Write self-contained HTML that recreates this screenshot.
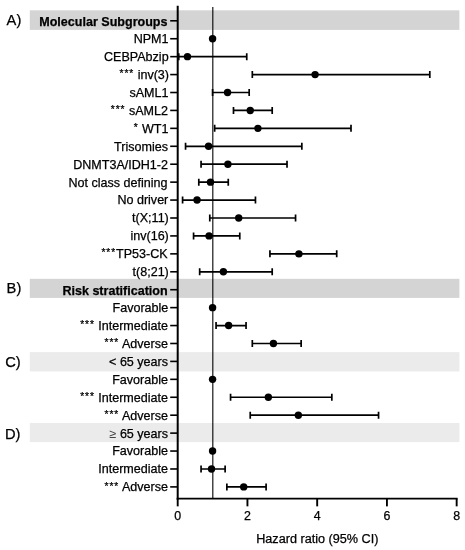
<!DOCTYPE html><html><head><meta charset="utf-8"><title>Forest plot</title><style>html,body{margin:0;padding:0;background:#fff}svg{display:block}text{font-family:"Liberation Sans",Arial,sans-serif;fill:#000;stroke:#000;stroke-width:.25px}</style></head><body>
<svg width="465" height="550" viewBox="0 0 465 550">
<rect width="465" height="550" fill="#fff"/>
<rect x="29.8" y="10.3" width="429.60" height="19.60" fill="#d4d4d4"/>
<rect x="29.8" y="278.8" width="429.60" height="19.10" fill="#d4d4d4"/>
<rect x="29.8" y="352.1" width="429.60" height="19.35" fill="#ebebeb"/>
<rect x="29.8" y="423.0" width="429.60" height="19.10" fill="#ebebeb"/>
<line x1="212.82" y1="7.0" x2="212.82" y2="498.55" stroke="#000" stroke-width="1.1"/>
<circle cx="212.57" cy="38.73" r="3.7" fill="#000"/>
<path d="M178.75 56.65H246.74M178.75 53.15V60.15M246.74 53.15V60.15" stroke="#000" stroke-width="1.7" fill="none"/>
<circle cx="187.46" cy="56.65" r="3.7" fill="#000"/>
<path d="M252.32 74.58H429.81M252.32 71.08V78.08M429.81 71.08V78.08" stroke="#000" stroke-width="1.7" fill="none"/>
<circle cx="315.09" cy="74.58" r="3.7" fill="#000"/>
<path d="M212.57 92.51H249.18M212.57 89.01V96.01M249.18 89.01V96.01" stroke="#000" stroke-width="1.7" fill="none"/>
<circle cx="227.56" cy="92.51" r="3.7" fill="#000"/>
<path d="M233.49 110.43H272.20M233.49 106.93V113.93M272.20 106.93V113.93" stroke="#000" stroke-width="1.7" fill="none"/>
<circle cx="250.23" cy="110.43" r="3.7" fill="#000"/>
<path d="M214.66 128.36H351.00M214.66 124.86V131.86M351.00 124.86V131.86" stroke="#000" stroke-width="1.7" fill="none"/>
<circle cx="257.90" cy="128.36" r="3.7" fill="#000"/>
<path d="M185.55 146.29H301.84M185.55 142.79V149.79M301.84 142.79V149.79" stroke="#000" stroke-width="1.7" fill="none"/>
<circle cx="208.56" cy="146.29" r="3.7" fill="#000"/>
<path d="M201.06 164.22H287.02M201.06 160.72V167.72M287.02 160.72V167.72" stroke="#000" stroke-width="1.7" fill="none"/>
<circle cx="227.91" cy="164.22" r="3.7" fill="#000"/>
<path d="M198.80 182.14H228.26M198.80 178.64V185.64M228.26 178.64V185.64" stroke="#000" stroke-width="1.7" fill="none"/>
<circle cx="210.48" cy="182.14" r="3.7" fill="#000"/>
<path d="M182.58 200.07H255.46M182.58 196.57V203.57M255.46 196.57V203.57" stroke="#000" stroke-width="1.7" fill="none"/>
<circle cx="197.05" cy="200.07" r="3.7" fill="#000"/>
<path d="M209.78 218.00H295.56M209.78 214.50V221.50M295.56 214.50V221.50" stroke="#000" stroke-width="1.7" fill="none"/>
<circle cx="238.72" cy="218.00" r="3.7" fill="#000"/>
<path d="M193.57 235.92H239.77M193.57 232.42V239.42M239.77 232.42V239.42" stroke="#000" stroke-width="1.7" fill="none"/>
<circle cx="209.08" cy="235.92" r="3.7" fill="#000"/>
<path d="M269.93 253.85H336.71M269.93 250.35V257.35M336.71 250.35V257.35" stroke="#000" stroke-width="1.7" fill="none"/>
<circle cx="298.91" cy="253.85" r="3.7" fill="#000"/>
<path d="M199.67 271.78H272.20M199.67 268.28V275.28M272.20 268.28V275.28" stroke="#000" stroke-width="1.7" fill="none"/>
<circle cx="223.38" cy="271.78" r="3.7" fill="#000"/>
<circle cx="212.57" cy="307.63" r="3.7" fill="#000"/>
<path d="M216.06 325.56H246.05M216.06 322.06V329.06M246.05 322.06V329.06" stroke="#000" stroke-width="1.7" fill="none"/>
<circle cx="228.61" cy="325.56" r="3.7" fill="#000"/>
<path d="M252.32 343.49H301.14M252.32 339.99V346.99M301.14 339.99V346.99" stroke="#000" stroke-width="1.7" fill="none"/>
<circle cx="273.42" cy="343.49" r="3.7" fill="#000"/>
<circle cx="212.57" cy="379.34" r="3.7" fill="#000"/>
<path d="M230.56 397.27H331.83M230.56 393.77V400.77M331.83 393.77V400.77" stroke="#000" stroke-width="1.7" fill="none"/>
<circle cx="268.36" cy="397.27" r="3.7" fill="#000"/>
<path d="M250.23 415.19H378.55M250.23 411.69V418.69M378.55 411.69V418.69" stroke="#000" stroke-width="1.7" fill="none"/>
<circle cx="298.35" cy="415.19" r="3.7" fill="#000"/>
<circle cx="212.57" cy="451.05" r="3.7" fill="#000"/>
<path d="M201.06 468.98H225.12M201.06 465.48V472.48M225.12 465.48V472.48" stroke="#000" stroke-width="1.7" fill="none"/>
<circle cx="211.52" cy="468.98" r="3.7" fill="#000"/>
<path d="M226.87 486.90H266.10M226.87 483.40V490.40M266.10 483.40V490.40" stroke="#000" stroke-width="1.7" fill="none"/>
<circle cx="243.71" cy="486.90" r="3.7" fill="#000"/>
<line x1="177.70" y1="5.8" x2="177.70" y2="499.55" stroke="#000" stroke-width="2"/>
<line x1="176.70" y1="498.55" x2="457.61" y2="498.55" stroke="#000" stroke-width="1.85"/>
<line x1="170.20" y1="20.80" x2="177.70" y2="20.80" stroke="#000" stroke-width="1.6"/>
<line x1="170.20" y1="38.73" x2="177.70" y2="38.73" stroke="#000" stroke-width="1.6"/>
<line x1="170.20" y1="56.65" x2="177.70" y2="56.65" stroke="#000" stroke-width="1.6"/>
<line x1="170.20" y1="74.58" x2="177.70" y2="74.58" stroke="#000" stroke-width="1.6"/>
<line x1="170.20" y1="92.51" x2="177.70" y2="92.51" stroke="#000" stroke-width="1.6"/>
<line x1="170.20" y1="110.43" x2="177.70" y2="110.43" stroke="#000" stroke-width="1.6"/>
<line x1="170.20" y1="128.36" x2="177.70" y2="128.36" stroke="#000" stroke-width="1.6"/>
<line x1="170.20" y1="146.29" x2="177.70" y2="146.29" stroke="#000" stroke-width="1.6"/>
<line x1="170.20" y1="164.22" x2="177.70" y2="164.22" stroke="#000" stroke-width="1.6"/>
<line x1="170.20" y1="182.14" x2="177.70" y2="182.14" stroke="#000" stroke-width="1.6"/>
<line x1="170.20" y1="200.07" x2="177.70" y2="200.07" stroke="#000" stroke-width="1.6"/>
<line x1="170.20" y1="218.00" x2="177.70" y2="218.00" stroke="#000" stroke-width="1.6"/>
<line x1="170.20" y1="235.92" x2="177.70" y2="235.92" stroke="#000" stroke-width="1.6"/>
<line x1="170.20" y1="253.85" x2="177.70" y2="253.85" stroke="#000" stroke-width="1.6"/>
<line x1="170.20" y1="271.78" x2="177.70" y2="271.78" stroke="#000" stroke-width="1.6"/>
<line x1="170.20" y1="289.70" x2="177.70" y2="289.70" stroke="#000" stroke-width="1.6"/>
<line x1="170.20" y1="307.63" x2="177.70" y2="307.63" stroke="#000" stroke-width="1.6"/>
<line x1="170.20" y1="325.56" x2="177.70" y2="325.56" stroke="#000" stroke-width="1.6"/>
<line x1="170.20" y1="343.49" x2="177.70" y2="343.49" stroke="#000" stroke-width="1.6"/>
<line x1="170.20" y1="361.41" x2="177.70" y2="361.41" stroke="#000" stroke-width="1.6"/>
<line x1="170.20" y1="379.34" x2="177.70" y2="379.34" stroke="#000" stroke-width="1.6"/>
<line x1="170.20" y1="397.27" x2="177.70" y2="397.27" stroke="#000" stroke-width="1.6"/>
<line x1="170.20" y1="415.19" x2="177.70" y2="415.19" stroke="#000" stroke-width="1.6"/>
<line x1="170.20" y1="433.12" x2="177.70" y2="433.12" stroke="#000" stroke-width="1.6"/>
<line x1="170.20" y1="451.05" x2="177.70" y2="451.05" stroke="#000" stroke-width="1.6"/>
<line x1="170.20" y1="468.98" x2="177.70" y2="468.98" stroke="#000" stroke-width="1.6"/>
<line x1="170.20" y1="486.90" x2="177.70" y2="486.90" stroke="#000" stroke-width="1.6"/>
<line x1="177.70" y1="498.55" x2="177.70" y2="506.35" stroke="#000" stroke-width="1.9"/>
<text x="177.70" y="520.25" font-size="12.4" text-anchor="middle">0</text>
<line x1="247.44" y1="498.55" x2="247.44" y2="506.35" stroke="#000" stroke-width="1.9"/>
<text x="247.44" y="520.25" font-size="12.4" text-anchor="middle">2</text>
<line x1="317.18" y1="498.55" x2="317.18" y2="506.35" stroke="#000" stroke-width="1.9"/>
<text x="317.18" y="520.25" font-size="12.4" text-anchor="middle">4</text>
<line x1="386.92" y1="498.55" x2="386.92" y2="506.35" stroke="#000" stroke-width="1.9"/>
<text x="386.92" y="520.25" font-size="12.4" text-anchor="middle">6</text>
<line x1="456.66" y1="498.55" x2="456.66" y2="506.35" stroke="#000" stroke-width="1.9"/>
<text x="456.66" y="520.25" font-size="12.4" text-anchor="middle">8</text>
<text x="317.3" y="543.45" font-size="12.65" text-anchor="middle">Hazard ratio (95% CI)</text>
<text x="167.50" y="25.70" font-size="12.55" text-anchor="end" font-weight="bold">Molecular Subgroups</text>
<text x="168.50" y="43.13" font-size="12.55" text-anchor="end">NPM1</text>
<text x="168.65" y="61.05" font-size="12.55" text-anchor="end">CEBPAbzip</text>
<text x="169.00" y="78.98" font-size="12.55" text-anchor="end"><tspan font-size="10.2" letter-spacing="0.91" dy="-1.8">***</tspan><tspan dy="1.8"> inv(3)</tspan></text>
<text x="168.50" y="96.91" font-size="12.55" text-anchor="end">sAML1</text>
<text x="168.00" y="114.83" font-size="12.55" text-anchor="end"><tspan font-size="10.2" letter-spacing="0.91" dy="-1.8">***</tspan><tspan dy="1.8"> sAML2</tspan></text>
<text x="168.50" y="132.76" font-size="12.55" text-anchor="end"><tspan font-size="10.2" letter-spacing="0.91" dy="-1.8">*</tspan><tspan dy="1.8"> WT1</tspan></text>
<text x="168.00" y="150.69" font-size="12.55" text-anchor="end">Trisomies</text>
<text x="168.00" y="168.62" font-size="12.55" text-anchor="end">DNMT3A/IDH1-2</text>
<text x="167.50" y="186.54" font-size="12.55" text-anchor="end">Not class defining</text>
<text x="168.30" y="204.47" font-size="12.55" text-anchor="end">No driver</text>
<text x="168.80" y="222.40" font-size="12.55" text-anchor="end">t(X;11)</text>
<text x="168.80" y="240.32" font-size="12.55" text-anchor="end">inv(16)</text>
<text x="167.70" y="258.25" font-size="12.55" text-anchor="end"><tspan font-size="10.2" letter-spacing="0.91" dy="-1.8">***</tspan><tspan dy="1.8">TP53-CK</tspan></text>
<text x="168.80" y="276.18" font-size="12.55" text-anchor="end">t(8;21)</text>
<text x="167.70" y="294.60" font-size="12.55" text-anchor="end" font-weight="bold">Risk stratification</text>
<text x="168.30" y="312.03" font-size="12.55" text-anchor="end">Favorable</text>
<text x="168.00" y="329.96" font-size="12.55" text-anchor="end"><tspan font-size="10.2" letter-spacing="0.91" dy="-1.8">***</tspan><tspan dy="1.8"> Intermediate</tspan></text>
<text x="168.00" y="347.89" font-size="12.55" text-anchor="end"><tspan font-size="10.2" letter-spacing="0.91" dy="-1.8">***</tspan><tspan dy="1.8"> Adverse</tspan></text>
<text x="168.00" y="365.81" font-size="12.55" text-anchor="end">&lt; 65 years</text>
<text x="168.00" y="383.74" font-size="12.55" text-anchor="end">Favorable</text>
<text x="168.00" y="401.67" font-size="12.55" text-anchor="end"><tspan font-size="10.2" letter-spacing="0.91" dy="-1.8">***</tspan><tspan dy="1.8"> Intermediate</tspan></text>
<text x="168.00" y="419.59" font-size="12.55" text-anchor="end"><tspan font-size="10.2" letter-spacing="0.91" dy="-1.8">***</tspan><tspan dy="1.8"> Adverse</tspan></text>
<text x="168.00" y="437.52" font-size="12.55" text-anchor="end"><tspan stroke="none" fill="#444" dy="0.4">≥</tspan><tspan dy="-0.4"> 65 years</tspan></text>
<text x="168.00" y="455.45" font-size="12.55" text-anchor="end">Favorable</text>
<text x="168.00" y="473.38" font-size="12.55" text-anchor="end">Intermediate</text>
<text x="168.00" y="491.30" font-size="12.55" text-anchor="end"><tspan font-size="10.2" letter-spacing="0.91" dy="-1.8">***</tspan><tspan dy="1.8"> Adverse</tspan></text>
<text x="6.6" y="24.5" font-size="14.7">A)</text>
<text x="6.6" y="292.7" font-size="14.7">B)</text>
<text x="5.2" y="366.6" font-size="14.7">C)</text>
<text x="5.0" y="438.8" font-size="14.7">D)</text>
</svg></body></html>
